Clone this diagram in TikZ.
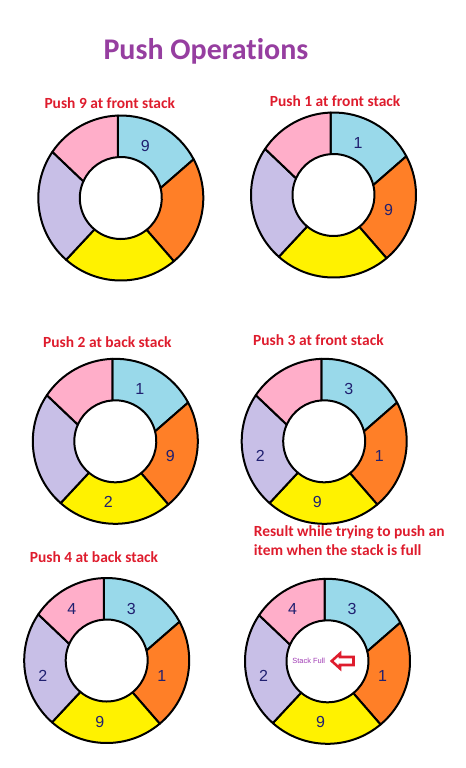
\documentclass[tikz,border=0pt]{standalone}
\usepackage{fontspec}
\setmainfont{Carlito}[Ligatures=NoCommon]
\newfontfamily\digitfont{Liberation Sans}
\usetikzlibrary{calc}

\definecolor{segPink}{RGB}{255,174,201}
\definecolor{segLav}{RGB}{200,191,231}
\definecolor{segBlue}{RGB}{153,217,234}
\definecolor{segOrange}{RGB}{255,127,39}
\definecolor{segYellow}{RGB}{255,242,0}
\definecolor{titlePurple}{RGB}{150,62,160}
\definecolor{fullPurple}{RGB}{160,60,180}
\definecolor{labelRed}{RGB}{222,28,45}
\definecolor{numNavy}{RGB}{32,32,112}

\newcommand{\outerR}{82.5}
\newcommand{\innerR}{41}

\tikzset{every picture/.style={line width=0.75pt}}
\tikzset{
  seg/.style={draw=black, line width=1.5pt, line join=round},
  num/.style={inner sep=0pt, text=numNavy, font=\digitfont\fontsize{12}{14}\selectfont},
  steplabel/.style={anchor=base west, inner sep=0pt, text=labelRed, align=left,
    font=\bfseries\fontsize{11.6}{13.7}\selectfont},
}

\begin{document}
\begin{tikzpicture}[x=0.75pt,y=0.75pt,yscale=-1,xscale=1]
\useasboundingbox (0,0) rectangle (465,768);

%Ring centres
\coordinate (ringA) at (120.8,198);
\coordinate (ringB) at (333.5,195);
\coordinate (ringC) at (115.3,441.3);
\coordinate (ringD) at (324.2,441.3);
\coordinate (ringE) at (106.7,660.5);
\coordinate (ringF) at (327.5,661.3);

\foreach \ring in {ringA,ringB,ringC,ringD,ringE,ringF}{
%Shape: Blue segment
\draw [seg, fill=segBlue] ($(\ring)+(-28:\outerR)$) arc [start angle=-28, end angle=-92, radius=\outerR] -- ($(\ring)+(-94:\innerR)$) arc [start angle=-94, end angle=-14, radius=\innerR] -- cycle ;
%Shape: Orange segment
\draw [seg, fill=segOrange] ($(\ring)+(50:\outerR)$) arc [start angle=50, end angle=-28, radius=\outerR] -- ($(\ring)+(-14:\innerR)$) arc [start angle=-14, end angle=51, radius=\innerR] -- cycle ;
%Shape: Yellow segment
\draw [seg, fill=segYellow] ($(\ring)+(131.5:\outerR)$) arc [start angle=131.5, end angle=50, radius=\outerR] -- ($(\ring)+(51:\innerR)$) arc [start angle=51, end angle=130, radius=\innerR] -- cycle ;
%Shape: Lavender segment
\draw [seg, fill=segLav] ($(\ring)+(214:\outerR)$) arc [start angle=214, end angle=131.5, radius=\outerR] -- ($(\ring)+(130:\innerR)$) arc [start angle=130, end angle=204, radius=\innerR] -- cycle ;
%Shape: Pink segment
\draw [seg, fill=segPink] ($(\ring)+(-92:\outerR)$) arc [start angle=-92, end angle=-146, radius=\outerR] -- ($(\ring)+(-156:\innerR)$) arc [start angle=-156, end angle=-94, radius=\innerR] -- cycle ;
}

% Text Node
\node (title) [anchor=base west, inner sep=0pt, text=titlePurple, font=\bfseries\fontsize{22.5}{26}\selectfont] at (103,59) {Push Operations};

% Text Node
\node (stepA) [steplabel] at (44,108) {Push 9 at front stack};
% Text Node
\node (stepB) [steplabel] at (269.3,106.7) {Push 1 at front stack};
% Text Node
\node (stepC) [steplabel] at (42.7,347.3) {Push 2 at back stack};
% Text Node
\node (stepD) [steplabel] at (252.7,345) {Push 3 at front stack};
% Text Node
\node (stepE) [steplabel] at (29.3,562.7) {Push 4 at back stack};
% Text Node
\node (stepF) [steplabel] at (253.3,555) {Result while trying to push an\\item when the stack is full};

%Numbers in the segments
\node (aBlue) [num] at ($(ringA)+(24.5,-52)$) {9};

\node (bBlue) [num] at ($(ringB)+(24.5,-52)$) {1};
\node (bOrange) [num] at ($(ringB)+(55,15)$) {9};

\node (cBlue) [num] at ($(ringC)+(24.5,-52)$) {1};
\node (cOrange) [num] at ($(ringC)+(55,15)$) {9};
\node (cYellow) [num] at ($(ringC)+(-7,61)$) {2};

\node (dBlue) [num] at ($(ringD)+(24.5,-52)$) {3};
\node (dOrange) [num] at ($(ringD)+(55,15)$) {1};
\node (dYellow) [num] at ($(ringD)+(-7,61)$) {9};
\node (dLav) [num] at ($(ringD)+(-64,15)$) {2};

\node (ePink) [num] at ($(ringE)+(-35,-52)$) {4};
\node (eBlue) [num] at ($(ringE)+(24.5,-52)$) {3};
\node (eOrange) [num] at ($(ringE)+(55,15)$) {1};
\node (eYellow) [num] at ($(ringE)+(-7,61)$) {9};
\node (eLav) [num] at ($(ringE)+(-64,15)$) {2};

\node (fPink) [num] at ($(ringF)+(-35,-52)$) {4};
\node (fBlue) [num] at ($(ringF)+(24.5,-52)$) {3};
\node (fOrange) [num] at ($(ringF)+(55,15)$) {1};
\node (fYellow) [num] at ($(ringF)+(-7,61)$) {9};
\node (fLav) [num] at ($(ringF)+(-64,15)$) {2};

% Text Node
\node (full) [inner sep=0pt, text=fullPurple, font=\digitfont\fontsize{5.6}{7}\selectfont] at (308.7,661) {Stack Full};

%Shape: Left arrow
\draw [draw=labelRed, fill=white, line width=1.9pt, line join=miter] (331.7,661) -- (340,653.5) -- (340,657) -- (353.5,657) -- (353.5,665) -- (340,665) -- (340,668.5) -- cycle ;

\end{tikzpicture}
\end{document}
